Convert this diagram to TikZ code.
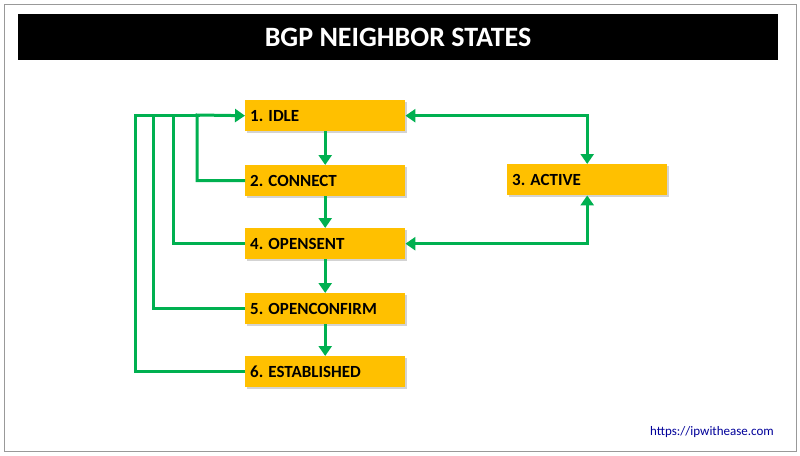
\documentclass[tikz,border=0pt]{standalone}
\usepackage{fontspec}
\setmainfont{Carlito}
\usetikzlibrary{arrows.meta,shadows}
\definecolor{gr}{RGB}{0,176,80}
\definecolor{yb}{RGB}{255,192,0}
\begin{document}
\begin{tikzpicture}[x=1pt,y=-1pt,
  st/.style={fill=yb,minimum width=160pt,minimum height=31pt,inner sep=0pt,anchor=north west,font=\bfseries\fontsize{17}{19}\selectfont,text width=150pt,align=flush left,drop shadow={opacity=0.35,shadow xshift=2pt,shadow yshift=-2pt}},
  ln/.style={draw=gr,line width=3pt,-{Triangle[length=10pt,width=13pt]}},
  bl/.style={draw=gr,line width=3pt,{Triangle[length=10pt,width=13pt]}-{Triangle[length=10pt,width=13pt]}}]
\useasboundingbox (0,0) rectangle (800,455);
\draw[black!40,line width=1pt] (4,4) rectangle (796,451);
\fill (18,14) rectangle (778,60);
\node[text=white,font=\bfseries\fontsize{28}{32}\selectfont] (title) at (398,37) {BGP NEIGHBOR STATES};
\node[st] (idle) at (245,100) {1. IDLE};
\node[st] (con) at (245,165) {2. CONNECT};
\node[st] (os) at (245,228) {4. OPENSENT};
\node[st] (oc) at (245,293) {5. OPENCONFIRM};
\node[st] (est) at (245,356) {6. ESTABLISHED};
\node[st] (act) at (507,164) {3. ACTIVE};
\draw[ln] (idle.south) -- (con.north);
\draw[ln] (con.south) -- (os.north);
\draw[ln] (os.south) -- (oc.north);
\draw[ln] (oc.south) -- (est.north);
\draw[ln] (con.west) -| (197,115) -- (idle.west);
\draw[draw=gr,line width=3pt] (os.west) -| (173,115);
\draw[draw=gr,line width=3pt] (oc.west) -| (153,115);
\draw[draw=gr,line width=3pt,line join=miter] (est.west) -| (135,115) -- (200,115);
\draw[bl] (idle.east) -| (act.north);
\draw[bl] (os.east) -| (act.south);
\node[text=blue!60!black,font=\fontsize{13}{15}\selectfont] (url) at (712,432) {https://ipwithease.com};
\end{tikzpicture}
\end{document}
